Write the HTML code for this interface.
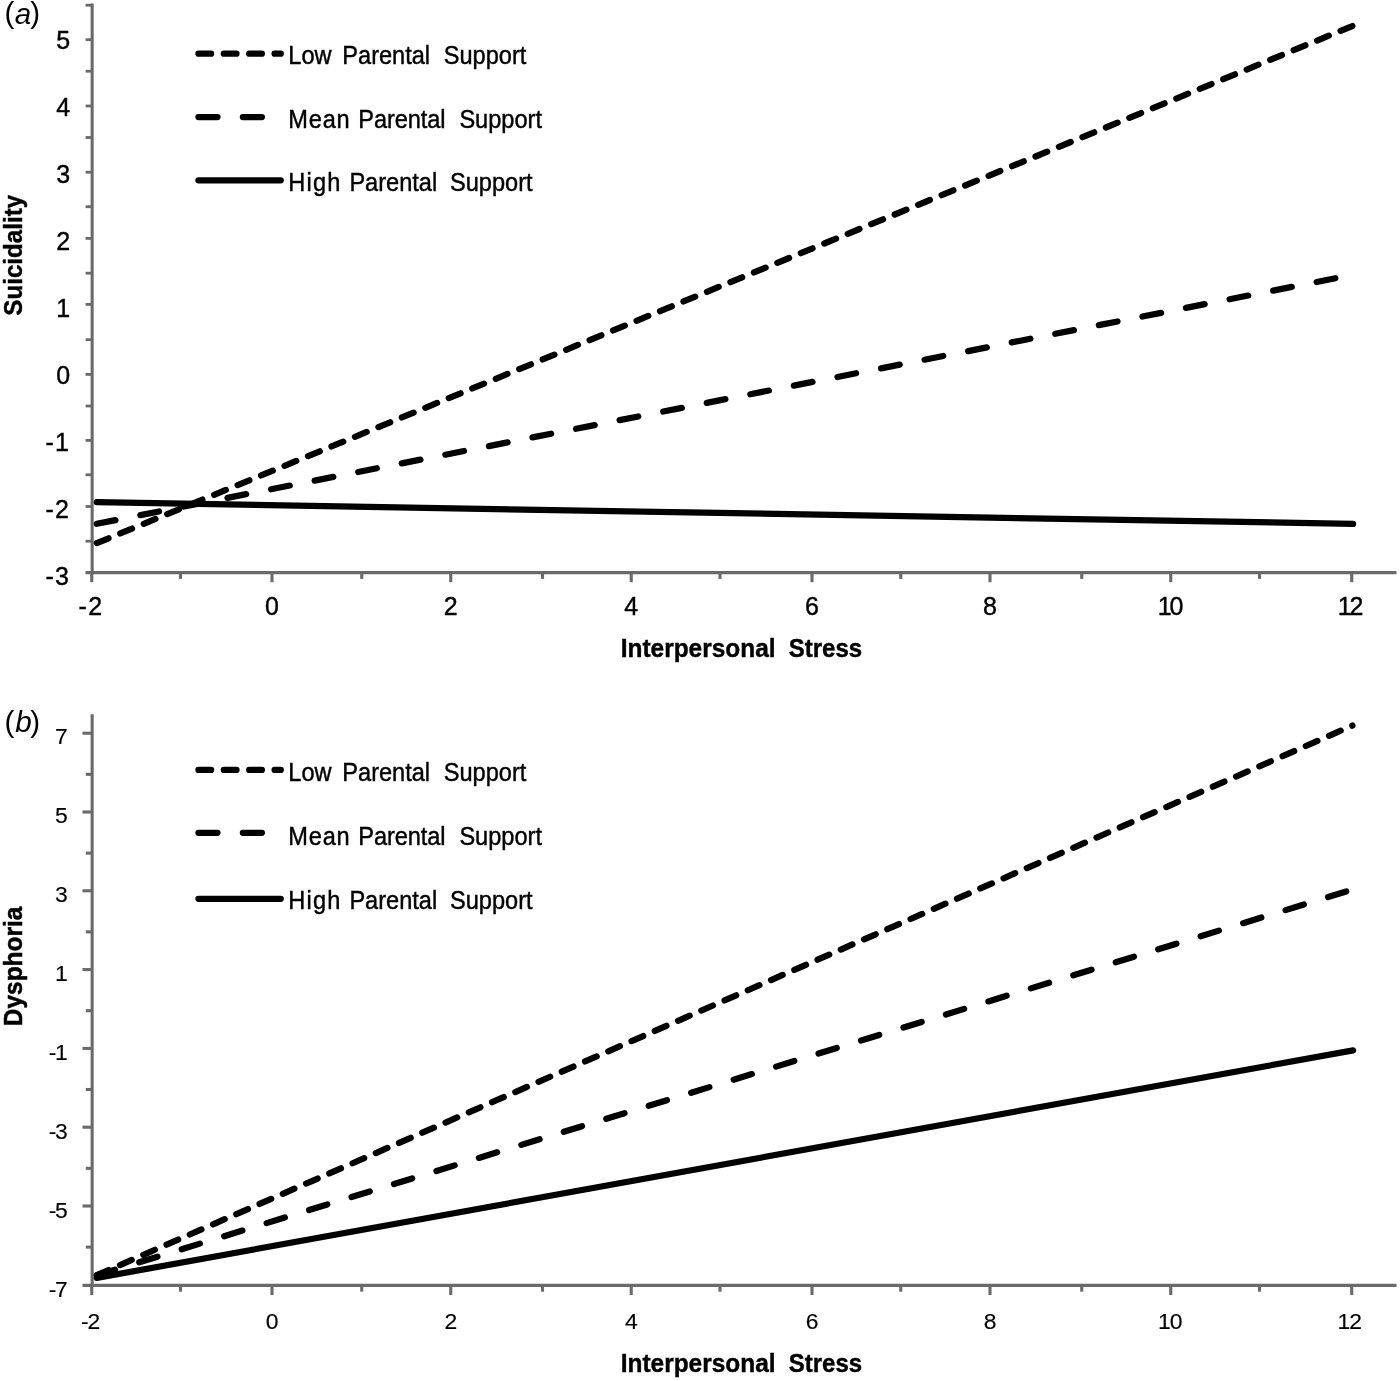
<!DOCTYPE html>
<html lang="en"><head><meta charset="utf-8"><title>Figure</title>
<style>
html,body{margin:0;padding:0;background:#fff;}
body{width:1400px;height:1381px;overflow:hidden;}
svg{display:block;font-family:"Liberation Sans", Arial, Helvetica, sans-serif;fill:#000;}
</style></head><body>
<svg width="1400" height="1381" viewBox="0 0 1400 1381">
<rect width="1400" height="1381" fill="#fff"/>
<line x1="92.15" y1="3.60" x2="92.15" y2="574.15" stroke="#6a6a6a" stroke-width="3.1" />
<line x1="85.70" y1="572.60" x2="1396.50" y2="572.60" stroke="#6a6a6a" stroke-width="3.1" />
<line x1="85.60" y1="5.20" x2="92.15" y2="5.20" stroke="#6a6a6a" stroke-width="2.8000000000000003" />
<line x1="85.60" y1="39.70" x2="92.15" y2="39.70" stroke="#6a6a6a" stroke-width="2.8000000000000003" />
<line x1="85.60" y1="71.20" x2="92.15" y2="71.20" stroke="#6a6a6a" stroke-width="2.8000000000000003" />
<line x1="85.60" y1="106.00" x2="92.15" y2="106.00" stroke="#6a6a6a" stroke-width="2.8000000000000003" />
<line x1="85.60" y1="137.50" x2="92.15" y2="137.50" stroke="#6a6a6a" stroke-width="2.8000000000000003" />
<line x1="85.60" y1="172.20" x2="92.15" y2="172.20" stroke="#6a6a6a" stroke-width="2.8000000000000003" />
<line x1="85.60" y1="206.70" x2="92.15" y2="206.70" stroke="#6a6a6a" stroke-width="2.8000000000000003" />
<line x1="85.60" y1="238.40" x2="92.15" y2="238.40" stroke="#6a6a6a" stroke-width="2.8000000000000003" />
<line x1="85.60" y1="273.20" x2="92.15" y2="273.20" stroke="#6a6a6a" stroke-width="2.8000000000000003" />
<line x1="85.60" y1="304.40" x2="92.15" y2="304.40" stroke="#6a6a6a" stroke-width="2.8000000000000003" />
<line x1="85.60" y1="339.70" x2="92.15" y2="339.70" stroke="#6a6a6a" stroke-width="2.8000000000000003" />
<line x1="85.60" y1="374.40" x2="92.15" y2="374.40" stroke="#6a6a6a" stroke-width="2.8000000000000003" />
<line x1="85.60" y1="406.00" x2="92.15" y2="406.00" stroke="#6a6a6a" stroke-width="2.8000000000000003" />
<line x1="85.60" y1="440.40" x2="92.15" y2="440.40" stroke="#6a6a6a" stroke-width="2.8000000000000003" />
<line x1="85.60" y1="474.80" x2="92.15" y2="474.80" stroke="#6a6a6a" stroke-width="2.8000000000000003" />
<line x1="85.60" y1="506.50" x2="92.15" y2="506.50" stroke="#6a6a6a" stroke-width="2.8000000000000003" />
<line x1="85.60" y1="541.20" x2="92.15" y2="541.20" stroke="#6a6a6a" stroke-width="2.8000000000000003" />
<line x1="85.60" y1="572.60" x2="92.15" y2="572.60" stroke="#6a6a6a" stroke-width="2.8000000000000003" />
<line x1="91.75" y1="572.60" x2="91.75" y2="582.20" stroke="#6a6a6a" stroke-width="3.1" />
<line x1="180.50" y1="572.60" x2="180.50" y2="578.90" stroke="#6a6a6a" stroke-width="3.1" />
<line x1="272.00" y1="572.60" x2="272.00" y2="582.20" stroke="#6a6a6a" stroke-width="3.1" />
<line x1="361.75" y1="572.60" x2="361.75" y2="578.90" stroke="#6a6a6a" stroke-width="3.1" />
<line x1="450.75" y1="572.60" x2="450.75" y2="582.20" stroke="#6a6a6a" stroke-width="3.1" />
<line x1="542.50" y1="572.60" x2="542.50" y2="578.90" stroke="#6a6a6a" stroke-width="3.1" />
<line x1="631.25" y1="572.60" x2="631.25" y2="582.20" stroke="#6a6a6a" stroke-width="3.1" />
<line x1="720.00" y1="572.60" x2="720.00" y2="578.90" stroke="#6a6a6a" stroke-width="3.1" />
<line x1="812.00" y1="572.60" x2="812.00" y2="582.20" stroke="#6a6a6a" stroke-width="3.1" />
<line x1="900.75" y1="572.60" x2="900.75" y2="578.90" stroke="#6a6a6a" stroke-width="3.1" />
<line x1="990.00" y1="572.60" x2="990.00" y2="582.20" stroke="#6a6a6a" stroke-width="3.1" />
<line x1="1081.75" y1="572.60" x2="1081.75" y2="578.90" stroke="#6a6a6a" stroke-width="3.1" />
<line x1="1170.75" y1="572.60" x2="1170.75" y2="582.20" stroke="#6a6a6a" stroke-width="3.1" />
<line x1="1259.50" y1="572.60" x2="1259.50" y2="578.90" stroke="#6a6a6a" stroke-width="3.1" />
<line x1="1351.75" y1="572.60" x2="1351.75" y2="582.20" stroke="#6a6a6a" stroke-width="3.1" />
<text transform="translate(68.90 585.30) scale(1 1.03)" font-size="25" text-anchor="end" font-weight="normal" font-style="normal" stroke="#000" stroke-width="0.4" >-<tspan dx="1.2">3</tspan></text>
<text transform="translate(68.90 518.30) scale(1 1.03)" font-size="25" text-anchor="end" font-weight="normal" font-style="normal" stroke="#000" stroke-width="0.4" >-<tspan dx="1.2">2</tspan></text>
<text transform="translate(68.90 451.30) scale(1 1.03)" font-size="25" text-anchor="end" font-weight="normal" font-style="normal" stroke="#000" stroke-width="0.4" >-<tspan dx="1.2">1</tspan></text>
<text transform="translate(70.20 384.30) scale(1 1.03)" font-size="25" text-anchor="end" font-weight="normal" font-style="normal" stroke="#000" stroke-width="0.4" >0</text>
<text transform="translate(70.20 317.30) scale(1 1.03)" font-size="25" text-anchor="end" font-weight="normal" font-style="normal" stroke="#000" stroke-width="0.4" >1</text>
<text transform="translate(70.20 250.30) scale(1 1.03)" font-size="25" text-anchor="end" font-weight="normal" font-style="normal" stroke="#000" stroke-width="0.4" >2</text>
<text transform="translate(70.20 183.30) scale(1 1.03)" font-size="25" text-anchor="end" font-weight="normal" font-style="normal" stroke="#000" stroke-width="0.4" >3</text>
<text transform="translate(70.20 116.30) scale(1 1.03)" font-size="25" text-anchor="end" font-weight="normal" font-style="normal" stroke="#000" stroke-width="0.4" >4</text>
<text transform="translate(70.20 49.30) scale(1 1.03)" font-size="25" text-anchor="end" font-weight="normal" font-style="normal" stroke="#000" stroke-width="0.4" >5</text>
<text transform="translate(90.25 615.00) scale(1 1.03)" font-size="25" text-anchor="middle" font-weight="normal" font-style="normal" stroke="#000" stroke-width="0.4" >-<tspan dx="1.5">2</tspan></text>
<text transform="translate(272.00 615.00) scale(1 1.03)" font-size="25" text-anchor="middle" font-weight="normal" font-style="normal" stroke="#000" stroke-width="0.4" >0</text>
<text transform="translate(450.75 615.00) scale(1 1.03)" font-size="25" text-anchor="middle" font-weight="normal" font-style="normal" stroke="#000" stroke-width="0.4" >2</text>
<text transform="translate(631.25 615.00) scale(1 1.03)" font-size="25" text-anchor="middle" font-weight="normal" font-style="normal" stroke="#000" stroke-width="0.4" >4</text>
<text transform="translate(812.00 615.00) scale(1 1.03)" font-size="25" text-anchor="middle" font-weight="normal" font-style="normal" stroke="#000" stroke-width="0.4" >6</text>
<text transform="translate(990.00 615.00) scale(1 1.03)" font-size="25" text-anchor="middle" font-weight="normal" font-style="normal" stroke="#000" stroke-width="0.4" >8</text>
<text transform="translate(1170.55 615.00) scale(1 1.03)" font-size="25" text-anchor="middle" font-weight="normal" font-style="normal" stroke="#000" stroke-width="0.4" >1<tspan dx="-2.3">0</tspan></text>
<text transform="translate(1350.55 615.00) scale(1 1.03)" font-size="25" text-anchor="middle" font-weight="normal" font-style="normal" stroke="#000" stroke-width="0.4" >1<tspan dx="-2.3">2</tspan></text>
<line x1="96.80" y1="543.10" x2="1352.40" y2="26.00" stroke="#000" stroke-width="6.25" stroke-linecap="round" stroke-dasharray="12.690 12.690"/>
<line x1="96.80" y1="523.80" x2="1352.40" y2="274.90" stroke="#000" stroke-width="6.25" stroke-linecap="round" stroke-dasharray="19.035 25.380"/>
<line x1="96.80" y1="502.20" x2="1353.10" y2="523.90" stroke="#000" stroke-width="6.25" stroke-linecap="round"/>
<line x1="198.43" y1="53.70" x2="280.77" y2="53.70" stroke="#000" stroke-width="6.25" stroke-linecap="round" stroke-dasharray="12.690 12.690"/>
<text transform="translate(0 64.00) scale(1 1.06)" font-size="23.6" stroke="#000" stroke-width="0.4"><tspan x="288.30" letter-spacing="0">Low</tspan> <tspan x="342.30" letter-spacing="0">Parental</tspan> <tspan x="443.70" letter-spacing="0">Support</tspan></text>
<line x1="198.43" y1="117.10" x2="280.77" y2="117.10" stroke="#000" stroke-width="6.25" stroke-linecap="round" stroke-dasharray="19.035 25.380"/>
<text transform="translate(0 127.70) scale(1 1.06)" font-size="23.6" stroke="#000" stroke-width="0.4"><tspan x="288.30" letter-spacing="0.8">Mean</tspan> <tspan x="358.30" letter-spacing="-0.1">Parental</tspan> <tspan x="459.40" letter-spacing="0">Support</tspan></text>
<line x1="198.43" y1="180.30" x2="280.77" y2="180.30" stroke="#000" stroke-width="6.25" stroke-linecap="round"/>
<text transform="translate(0 190.90) scale(1 1.06)" font-size="23.6" stroke="#000" stroke-width="0.4"><tspan x="288.30" letter-spacing="1.2">High</tspan> <tspan x="349.40" letter-spacing="0">Parental</tspan> <tspan x="450.00" letter-spacing="0">Support</tspan></text>
<text transform="translate(0 656.5) scale(1 1.06)" font-size="24.2" font-weight="bold" stroke="#000" stroke-width="0.4"><tspan x="620.7" font-size="24.45">Interpersonal</tspan> <tspan x="788.8" font-size="24">Stress</tspan></text>
<text transform="translate(22.3,315.7) rotate(-90) scale(1 1.035)" font-size="24.2" font-weight="bold" stroke="#000" stroke-width="0.4">Suicidality</text>
<text x="4.5" y="24.0" font-size="29.6"><tspan dy="-0.7">(</tspan><tspan font-style="italic" dx="0.5" dy="0.7">a</tspan><tspan dx="-1.1" dy="-0.7">)</tspan></text>
<line x1="92.15" y1="714.20" x2="92.15" y2="1286.95" stroke="#6a6a6a" stroke-width="3.1" />
<line x1="82.50" y1="1285.40" x2="1396.50" y2="1285.40" stroke="#6a6a6a" stroke-width="3.1" />
<line x1="85.80" y1="1247.10" x2="92.15" y2="1247.10" stroke="#6a6a6a" stroke-width="3.1" />
<line x1="82.50" y1="1206.00" x2="92.15" y2="1206.00" stroke="#6a6a6a" stroke-width="3.1" />
<line x1="85.80" y1="1168.30" x2="92.15" y2="1168.30" stroke="#6a6a6a" stroke-width="3.1" />
<line x1="82.50" y1="1127.20" x2="92.15" y2="1127.20" stroke="#6a6a6a" stroke-width="3.1" />
<line x1="85.80" y1="1089.50" x2="92.15" y2="1089.50" stroke="#6a6a6a" stroke-width="3.1" />
<line x1="82.50" y1="1048.40" x2="92.15" y2="1048.40" stroke="#6a6a6a" stroke-width="3.1" />
<line x1="85.80" y1="1010.70" x2="92.15" y2="1010.70" stroke="#6a6a6a" stroke-width="3.1" />
<line x1="82.50" y1="969.60" x2="92.15" y2="969.60" stroke="#6a6a6a" stroke-width="3.1" />
<line x1="85.80" y1="931.90" x2="92.15" y2="931.90" stroke="#6a6a6a" stroke-width="3.1" />
<line x1="82.50" y1="890.80" x2="92.15" y2="890.80" stroke="#6a6a6a" stroke-width="3.1" />
<line x1="85.80" y1="853.10" x2="92.15" y2="853.10" stroke="#6a6a6a" stroke-width="3.1" />
<line x1="82.50" y1="812.00" x2="92.15" y2="812.00" stroke="#6a6a6a" stroke-width="3.1" />
<line x1="85.80" y1="774.30" x2="92.15" y2="774.30" stroke="#6a6a6a" stroke-width="3.1" />
<line x1="82.50" y1="733.20" x2="92.15" y2="733.20" stroke="#6a6a6a" stroke-width="3.1" />
<line x1="91.75" y1="1285.40" x2="91.75" y2="1295.00" stroke="#6a6a6a" stroke-width="3.1" />
<line x1="180.50" y1="1285.40" x2="180.50" y2="1291.70" stroke="#6a6a6a" stroke-width="3.1" />
<line x1="272.00" y1="1285.40" x2="272.00" y2="1295.00" stroke="#6a6a6a" stroke-width="3.1" />
<line x1="361.75" y1="1285.40" x2="361.75" y2="1291.70" stroke="#6a6a6a" stroke-width="3.1" />
<line x1="450.75" y1="1285.40" x2="450.75" y2="1295.00" stroke="#6a6a6a" stroke-width="3.1" />
<line x1="542.50" y1="1285.40" x2="542.50" y2="1291.70" stroke="#6a6a6a" stroke-width="3.1" />
<line x1="631.25" y1="1285.40" x2="631.25" y2="1295.00" stroke="#6a6a6a" stroke-width="3.1" />
<line x1="720.00" y1="1285.40" x2="720.00" y2="1291.70" stroke="#6a6a6a" stroke-width="3.1" />
<line x1="812.00" y1="1285.40" x2="812.00" y2="1295.00" stroke="#6a6a6a" stroke-width="3.1" />
<line x1="900.75" y1="1285.40" x2="900.75" y2="1291.70" stroke="#6a6a6a" stroke-width="3.1" />
<line x1="990.00" y1="1285.40" x2="990.00" y2="1295.00" stroke="#6a6a6a" stroke-width="3.1" />
<line x1="1081.75" y1="1285.40" x2="1081.75" y2="1291.70" stroke="#6a6a6a" stroke-width="3.1" />
<line x1="1170.75" y1="1285.40" x2="1170.75" y2="1295.00" stroke="#6a6a6a" stroke-width="3.1" />
<line x1="1259.50" y1="1285.40" x2="1259.50" y2="1291.70" stroke="#6a6a6a" stroke-width="3.1" />
<line x1="1351.75" y1="1285.40" x2="1351.75" y2="1295.00" stroke="#6a6a6a" stroke-width="3.1" />
<text transform="translate(67.80 1297.19) scale(1 1.0)" font-size="22.9" text-anchor="end" font-weight="normal" font-style="normal" stroke="#000" stroke-width="0.15" >-<tspan dx="-1.2">7</tspan></text>
<text transform="translate(67.80 1218.12) scale(1 1.0)" font-size="22.9" text-anchor="end" font-weight="normal" font-style="normal" stroke="#000" stroke-width="0.15" >-<tspan dx="-1.2">5</tspan></text>
<text transform="translate(67.80 1139.05) scale(1 1.0)" font-size="22.9" text-anchor="end" font-weight="normal" font-style="normal" stroke="#000" stroke-width="0.15" >-<tspan dx="-1.2">3</tspan></text>
<text transform="translate(67.80 1059.98) scale(1 1.0)" font-size="22.9" text-anchor="end" font-weight="normal" font-style="normal" stroke="#000" stroke-width="0.15" >-<tspan dx="-1.2">1</tspan></text>
<text transform="translate(67.80 980.91) scale(1 1.0)" font-size="22.9" text-anchor="end" font-weight="normal" font-style="normal" stroke="#000" stroke-width="0.15" >1</text>
<text transform="translate(67.80 901.84) scale(1 1.0)" font-size="22.9" text-anchor="end" font-weight="normal" font-style="normal" stroke="#000" stroke-width="0.15" >3</text>
<text transform="translate(67.80 822.77) scale(1 1.0)" font-size="22.9" text-anchor="end" font-weight="normal" font-style="normal" stroke="#000" stroke-width="0.15" >5</text>
<text transform="translate(67.80 743.70) scale(1 1.0)" font-size="22.9" text-anchor="end" font-weight="normal" font-style="normal" stroke="#000" stroke-width="0.15" >7</text>
<text transform="translate(90.55 1329.00) scale(1 1.0)" font-size="22.9" text-anchor="middle" font-weight="normal" font-style="normal" stroke="#000" stroke-width="0.15" >-<tspan dx="-1.2">2</tspan></text>
<text transform="translate(272.00 1329.00) scale(1 1.0)" font-size="22.9" text-anchor="middle" font-weight="normal" font-style="normal" stroke="#000" stroke-width="0.15" >0</text>
<text transform="translate(450.75 1329.00) scale(1 1.0)" font-size="22.9" text-anchor="middle" font-weight="normal" font-style="normal" stroke="#000" stroke-width="0.15" >2</text>
<text transform="translate(631.25 1329.00) scale(1 1.0)" font-size="22.9" text-anchor="middle" font-weight="normal" font-style="normal" stroke="#000" stroke-width="0.15" >4</text>
<text transform="translate(812.00 1329.00) scale(1 1.0)" font-size="22.9" text-anchor="middle" font-weight="normal" font-style="normal" stroke="#000" stroke-width="0.15" >6</text>
<text transform="translate(990.00 1329.00) scale(1 1.0)" font-size="22.9" text-anchor="middle" font-weight="normal" font-style="normal" stroke="#000" stroke-width="0.15" >8</text>
<text transform="translate(1170.15 1329.00) scale(1 1.0)" font-size="22.9" text-anchor="middle" font-weight="normal" font-style="normal" stroke="#000" stroke-width="0.15" >1<tspan dx="-1.0">0</tspan></text>
<text transform="translate(1349.75 1329.00) scale(1 1.0)" font-size="22.9" text-anchor="middle" font-weight="normal" font-style="normal" stroke="#000" stroke-width="0.15" >1<tspan dx="-1.0">2</tspan></text>
<line x1="96.80" y1="1275.20" x2="1352.40" y2="725.60" stroke="#000" stroke-width="6.25" stroke-linecap="round" stroke-dasharray="12.690 12.690"/>
<line x1="96.80" y1="1275.30" x2="1352.40" y2="889.60" stroke="#000" stroke-width="6.25" stroke-linecap="round" stroke-dasharray="19.035 25.380"/>
<line x1="96.80" y1="1277.90" x2="1353.10" y2="1050.40" stroke="#000" stroke-width="6.25" stroke-linecap="round"/>
<line x1="198.43" y1="769.90" x2="280.77" y2="769.90" stroke="#000" stroke-width="6.25" stroke-linecap="round" stroke-dasharray="12.690 12.690"/>
<text transform="translate(0 780.80) scale(1 1.06)" font-size="23.6" stroke="#000" stroke-width="0.4"><tspan x="288.30" letter-spacing="0">Low</tspan> <tspan x="342.30" letter-spacing="0">Parental</tspan> <tspan x="443.70" letter-spacing="0">Support</tspan></text>
<line x1="198.43" y1="832.80" x2="280.77" y2="832.80" stroke="#000" stroke-width="6.25" stroke-linecap="round" stroke-dasharray="19.035 25.380"/>
<text transform="translate(0 845.30) scale(1 1.06)" font-size="23.6" stroke="#000" stroke-width="0.4"><tspan x="288.30" letter-spacing="0.8">Mean</tspan> <tspan x="358.30" letter-spacing="-0.1">Parental</tspan> <tspan x="459.40" letter-spacing="0">Support</tspan></text>
<line x1="198.43" y1="898.80" x2="280.77" y2="898.80" stroke="#000" stroke-width="6.25" stroke-linecap="round"/>
<text transform="translate(0 908.70) scale(1 1.06)" font-size="23.6" stroke="#000" stroke-width="0.4"><tspan x="288.30" letter-spacing="1.2">High</tspan> <tspan x="349.40" letter-spacing="0">Parental</tspan> <tspan x="450.00" letter-spacing="0">Support</tspan></text>
<text transform="translate(0 1371.7) scale(1 1.06)" font-size="24.2" font-weight="bold" stroke="#000" stroke-width="0.4"><tspan x="620.7" font-size="24.45">Interpersonal</tspan> <tspan x="788.8" font-size="24">Stress</tspan></text>
<text transform="translate(22.3,1026.2) rotate(-90) scale(1 1.03)" font-size="25" font-weight="bold" stroke="#000" stroke-width="0.5" textLength="119.5" lengthAdjust="spacingAndGlyphs">Dysphoria</text>
<text x="4.5" y="731.9" font-size="29.6">(<tspan font-style="italic" dx="1">b</tspan><tspan dx="-1.5">)</tspan></text>
</svg>
</body></html>
